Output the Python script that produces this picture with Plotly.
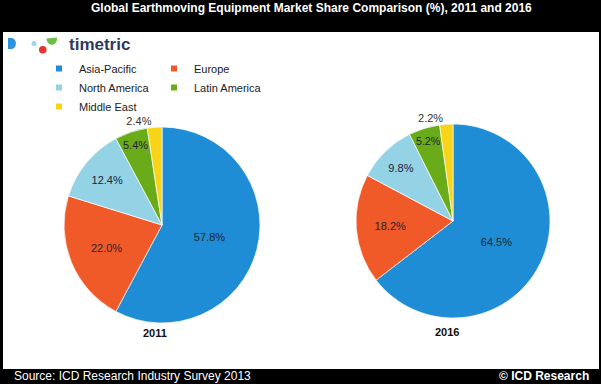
import plotly.graph_objects as go

# ---- data ----
regions = ["Asia-Pacific", "Europe", "North America", "Latin America", "Middle East"]
share_2011 = [57.8, 22.0, 12.4, 5.4, 2.4]
share_2016 = [64.5, 18.2, 9.8, 5.2, 2.2]
years = ["2011", "2016"]
colors = ["#1f8dd6", "#f05a28", "#94d2e6", "#6aab1a", "#f7d417"]
text_pos = ["inside", "inside", "inside", "inside", "outside"]

title_text = "Global Earthmoving Equipment Market Share Comparison (%), 2011 and 2016"
source_text = "Source: ICD Research Industry Survey 2013"
copyright_text = "© ICD Research"

W, H = 601, 384
FONT = "Arial, Liberation Sans, sans-serif"


def px_x(v):
    return v / W


def px_y(v):
    return 1 - v / H


fig = go.Figure()

pie_domains = [
    dict(x=[px_x(64), px_x(260)], y=[px_y(339), px_y(111)]),
    dict(x=[px_x(356), px_x(550)], y=[px_y(334), px_y(108)]),
]
year_label_pos = [(155, 333), (447, 332)]

annotations = []
for vals, yr, dom, (lx, ly) in zip([share_2011, share_2016], years, pie_domains, year_label_pos):
    fig.add_trace(go.Pie(
        labels=regions,
        values=vals,
        sort=False,
        direction="clockwise",
        rotation=0,
        domain=dom,
        marker=dict(colors=colors, line=dict(color="rgba(255,255,255,0.7)", width=1)),
        texttemplate="%{value:.1f}%",
        textposition=text_pos,
        insidetextorientation="horizontal",
        textfont=dict(family=FONT, size=11, color="#1c2433"),
        outsidetextfont=dict(family=FONT, size=11, color="#333333"),
        showlegend=False,
        hoverinfo="label+percent",
    ))
    annotations.append(dict(text="<b>" + yr + "</b>", x=px_x(lx), y=px_y(ly),
                            xref="paper", yref="paper", showarrow=False,
                            xanchor="center", yanchor="middle",
                            font=dict(family=FONT, size=11, color="#111111")))

# legend-only entries (two columns)
legend_map = ["legend", "legend2", "legend", "legend2", "legend"]
for name, c, lg in zip(regions, colors, legend_map):
    fig.add_trace(go.Scatter(
        x=[None], y=[None], mode="markers", name=name,
        marker=dict(symbol="square", size=6, color=c),
        legend=lg, showlegend=True, hoverinfo="skip",
    ))


def P(x, y):
    return "%f %f" % (px_x(x), px_y(y))


shapes = [
    dict(type="rect", xref="paper", yref="paper", x0=px_x(3), x1=px_x(599),
         y0=px_y(369), y1=px_y(32), fillcolor="white", line=dict(width=0), layer="below"),
    # logo
    dict(type="path", xref="paper", yref="paper",
         path="M %s L %s C %s %s %s L %s Z" % (P(8, 38), P(11, 38), P(17.5, 38), P(17.5, 49),
                                               P(11, 49), P(8, 49)),
         fillcolor="#2e93dc", line=dict(width=0)),
    dict(type="circle", xref="paper", yref="paper", x0=px_x(31.5), x1=px_x(36.5),
         y0=px_y(46), y1=px_y(41), fillcolor="#9fd6ee", line=dict(width=0)),
    dict(type="circle", xref="paper", yref="paper", x0=px_x(39), x1=px_x(46.5),
         y0=px_y(53.5), y1=px_y(46), fillcolor="#e8322b", line=dict(width=0)),
    dict(type="path", xref="paper", yref="paper",
         path="M %s L %s C %s %s %s Z" % (P(46.5, 38.5), P(57, 37.5), P(57.5, 47),
                                          P(47, 47), P(46.5, 38.5)),
         fillcolor="#6cc04a", line=dict(width=0)),
]

annotations += [
    dict(text="<b>" + title_text + "</b>", x=px_x(311), y=px_y(8), xref="paper", yref="paper",
         showarrow=False, xanchor="center", yanchor="middle",
         font=dict(family=FONT, size=12, color="white")),
    dict(text=source_text, x=px_x(12), y=px_y(376), xref="paper", yref="paper",
         showarrow=False, xanchor="left", yanchor="middle",
         font=dict(family=FONT, size=12, color="white")),
    dict(text="<b>" + copyright_text + "</b>", x=px_x(591), y=px_y(376), xref="paper", yref="paper",
         showarrow=False, xanchor="right", yanchor="middle",
         font=dict(family=FONT, size=12, color="white")),
    dict(text="<b>timetric</b>", x=px_x(67), y=px_y(44), xref="paper", yref="paper",
         showarrow=False, xanchor="left", yanchor="middle",
         font=dict(family=FONT, size=17, color="#2c3a5e")),
]

legend_style = dict(
    orientation="v", xanchor="left", yanchor="top",
    bgcolor="rgba(0,0,0,0)", borderwidth=0, tracegroupgap=0,
    font=dict(family=FONT, size=11, color="#222222"),
)

fig.update_layout(
    width=W, height=H,
    margin=dict(l=0, r=0, t=0, b=0),
    paper_bgcolor="black",
    plot_bgcolor="rgba(0,0,0,0)",
    xaxis=dict(visible=False),
    yaxis=dict(visible=False),
    shapes=shapes,
    annotations=annotations,
    legend=dict(x=px_x(39), y=px_y(54), **legend_style),
    legend2=dict(x=px_x(154), y=px_y(54), **legend_style),
)

fig.write_html("out.html", config={"displayModeBar": False},
               post_script="document.body.style.margin='0px';")
